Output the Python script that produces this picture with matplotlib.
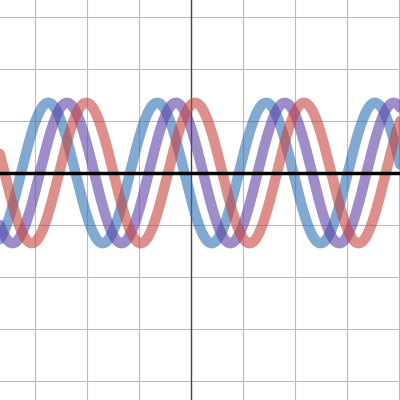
import numpy as np
import matplotlib
matplotlib.use("Agg")
import matplotlib.pyplot as plt

# curve parameters (grid unit = 1)
amplitude = 1.35
frequency = 3.0
peak_shifts = [-0.65, -0.29, 0.08]
colors = ["#2d70b3", "#6042a6", "#c74440"]

x = np.linspace(-3.7, 4.1, 2000)

fig = plt.figure(figsize=(4, 4), dpi=100)
ax = fig.add_axes([0, 0, 1, 1])
ax.set_xlim(-191 / 52, 209 / 52)
ax.set_ylim(-227 / 52, 173 / 52)

for k in range(-4, 5):
    ax.axvline(k, color="#bbbbbb", lw=0.8, zorder=0)
    ax.axhline(k, color="#bbbbbb", lw=0.8, zorder=0)
ax.axvline(0, color="#444444", lw=1.0, zorder=1)

for shift, c in zip(peak_shifts, colors):
    y = amplitude * np.cos(frequency * (x - shift))
    ax.plot(x, y, color=c, lw=7.5, alpha=0.6, solid_capstyle="round", zorder=2)

ax.axhline(0, color="black", lw=2.5, zorder=3)
ax.set_xticks([])
ax.set_yticks([])
for s in ax.spines.values():
    s.set_visible(False)

fig.savefig("out.png", dpi=100)
